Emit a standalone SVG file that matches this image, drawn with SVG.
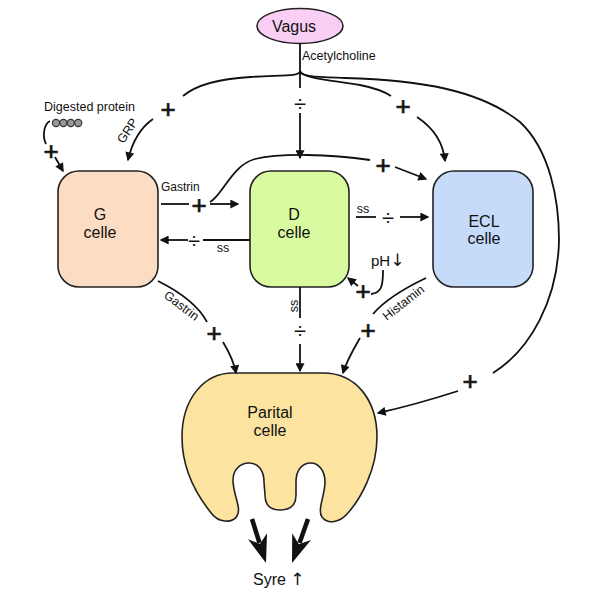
<svg xmlns="http://www.w3.org/2000/svg" width="600" height="600" viewBox="0 0 600 600">
<style>
.ln{fill:none;stroke:#111;stroke-width:1.8}
.ar{fill:none;stroke:#111;stroke-width:1.8;marker-end:url(#ah)}
.box{stroke:#222;stroke-width:1.6}
.t{font-family:"Liberation Sans",Arial,sans-serif;fill:#111}
.big{font-size:16px}
.sm{font-size:12.5px}
.plus{font-family:"Liberation Sans",Arial,sans-serif;font-size:26px;fill:#111;stroke:#111;stroke-width:0.7;text-anchor:middle}
.div{font-family:"Liberation Sans",Arial,sans-serif;font-size:22px;fill:#111;text-anchor:middle}
.arr{font-family:"DejaVu Sans",sans-serif;font-size:17px}
</style>
<defs>
<marker id="ah" viewBox="0 0 10 10" refX="8.5" refY="5" markerWidth="10" markerHeight="9" markerUnits="userSpaceOnUse" orient="auto">
<path d="M0,0 L10,5 L0,10 z" fill="#111"/>
</marker>
</defs>
<rect width="600" height="600" fill="#fff"/>

<g id="vagus">
<ellipse cx="300" cy="26" rx="43" ry="17.5" fill="#f9cff5" class="box"/>
<text class="t big" x="294" y="31.5" text-anchor="middle">Vagus</text>
</g>

<g id="digested-protein">
<text class="t sm" x="44" y="111">Digested protein</text>
<circle cx="56" cy="123" r="3.6" fill="#999" stroke="#333" stroke-width="1.2"/>
<circle cx="63.4" cy="123" r="3.6" fill="#999" stroke="#333" stroke-width="1.2"/>
<circle cx="70.8" cy="123" r="3.6" fill="#999" stroke="#333" stroke-width="1.2"/>
<circle cx="78.2" cy="123" r="3.6" fill="#999" stroke="#333" stroke-width="1.2"/>
</g>

<g id="g-cell">
<rect x="58" y="171" width="100" height="116" rx="21" fill="#fcdcc2" class="box"/>
<text class="t big" x="100" y="220" text-anchor="middle">G</text>
<text class="t big" x="100" y="237.5" text-anchor="middle">celle</text>
</g>

<g id="d-cell">
<rect x="250" y="171" width="99" height="116" rx="21" fill="#d9fb9f" class="box"/>
<text class="t big" x="294" y="220" text-anchor="middle">D</text>
<text class="t big" x="294" y="237.5" text-anchor="middle">celle</text>
</g>

<g id="ecl-cell">
<rect x="433" y="171" width="100" height="116" rx="21" fill="#c6dafa" class="box"/>
<text class="t big" x="484" y="227" text-anchor="middle">ECL</text>
<text class="t big" x="484" y="244" text-anchor="middle">celle</text>
</g>

<g id="parietal-cell">
<path d="M233,373 L323,373 C356,373 377,400 377,437 C377,470 360,500 347,514 C340,522 328,525 322,517 C317,510 325,495 325,482 C325,470 318,463 311,463 C302,463 296,470 296,482 L296,495 C296,505 291,510 280,510 C270,510 265,505 265,495 L264,482 C264,470 258,463 249,463 C240,463 233,470 233,480 C233,495 242,508 237,516 C232,524 218,522 212,514 C198,497 182,470 182,437 C182,400 203,373 233,373 Z" fill="#fce4a0" class="box"/>
<text class="t big" x="270" y="418" text-anchor="middle">Parital</text>
<text class="t big" x="270" y="436" text-anchor="middle">celle</text>
</g>

<g id="syre">
<line x1="252" y1="519" x2="259.5" y2="543" stroke="#111" stroke-width="4.5"/>
<polygon points="266,563 267,533.3 259.9,543.9 248,539.3" fill="#111"/>
<line x1="308" y1="519" x2="299.5" y2="543" stroke="#111" stroke-width="4.5"/>
<polygon points="292,563 311,540.1 298.8,544.2 292.2,533.3" fill="#111"/>
<text class="t big" x="253" y="585">Syre <tspan class="arr" font-size="19">↑</tspan></text>
</g>

<g id="connectors">
<!-- Vagus stem and branches -->
<path class="ln" d="M300,43.5 L300,71"/>
<path class="ln" d="M300,71 C300,77 280,75 250,77 C215,79 195,86 183,96"/>
<path class="ln" d="M300,71 C300,77 320,77 345,78 C420,80 480,90 520,122 C550,150 559,200 559,240 C558,300 530,350 493,373"/>
<path class="ln" d="M300,71 C302,78 330,80 360,85 C375,88 385,92 391,96"/>
<path class="ln" d="M300,71 L300,88"/>
<path class="ar" d="M300,113 L300,158"/>
<text class="div" x="300" y="111">÷</text>

<!-- Acetylcholine label -->
<text class="t sm" x="302" y="60">Acetylcholine</text>

<!-- GRP -->
<text class="plus" x="168" y="117.5">+</text>
<path class="ar" d="M153,119 C140,128 132,143 128,160"/>
<text class="t sm" text-anchor="middle" transform="translate(131,133) rotate(-57)">GRP</text>

<!-- Digested protein to G -->
<path class="ln" d="M50,121 C44,124 42,136 46,144"/>
<text class="plus" x="51" y="159.5">+</text>
<path class="ar" d="M55,157 L63,171"/>

<!-- Ach to ECL -->
<text class="plus" x="403" y="114.5">+</text>
<path class="ar" d="M417,117 C432,127 443,140 445,161"/>

<!-- Gastrin G to D and to ECL -->
<text class="t" x="161" y="191" font-size="12">Gastrin</text>
<path class="ln" d="M161,204 L189,204"/>
<text class="plus" x="199" y="213.5">+</text>
<path class="ar" d="M210,204 L238,204"/>
<path class="ln" d="M210,202 C222,196 232,165 255,159 C280,153 330,154 370,160"/>
<text class="plus" x="383" y="173.5">+</text>
<path class="ar" d="M395,167 L426,179"/>

<!-- ss D to G -->
<path class="ln" d="M250,240 L203,240"/>
<text class="div" x="194" y="248">÷</text>
<path class="ar" d="M188,240 L161,240"/>
<text class="t sm" x="223" y="252" text-anchor="middle">ss</text>

<!-- ss D to ECL -->
<text class="t sm" x="363" y="213" text-anchor="middle">ss</text>
<path class="ln" d="M356,217 L376,217"/>
<text class="div" x="388" y="225">÷</text>
<path class="ar" d="M400,217 L428,217"/>

<!-- pH -->
<text class="t" x="371" y="266" font-size="15">pH<tspan class="arr" font-size="17">↓</tspan></text>
<path class="ln" d="M383,270 C383,285 382,293 371,294"/>
<text class="plus" x="363" y="299.5">+</text>
<path class="ar" d="M358,286 L348,278"/>

<!-- Histamin -->
<path class="ln" d="M426,278 C405,288 385,300 373,314"/>
<text class="t sm" text-anchor="middle" transform="translate(406,306) rotate(-38)">Histamin</text>
<text class="plus" x="368" y="338.5">+</text>
<path class="ar" d="M360,338 C353,350 347,360 343,373"/>

<!-- ss D to Parietal -->
<path class="ln" d="M300,287 L300,318"/>
<text class="t sm" text-anchor="middle" transform="translate(298,306) rotate(-90)">ss</text>
<text class="div" x="300" y="338">÷</text>
<path class="ar" d="M300,344 L300,371"/>

<!-- Gastrin G to Parietal -->
<path class="ln" d="M158,281 C180,292 198,305 207,322"/>
<text class="t sm" text-anchor="middle" transform="translate(179,309) rotate(37)">Gastrin</text>
<text class="plus" x="214" y="341.5">+</text>
<path class="ar" d="M223,342 C229,352 234,362 236,373"/>

<!-- Vagus to Parietal -->
<text class="plus" x="470" y="389.5">+</text>
<path class="ar" d="M458,391 C430,400 405,407 378,413"/>
</g>
</svg>
